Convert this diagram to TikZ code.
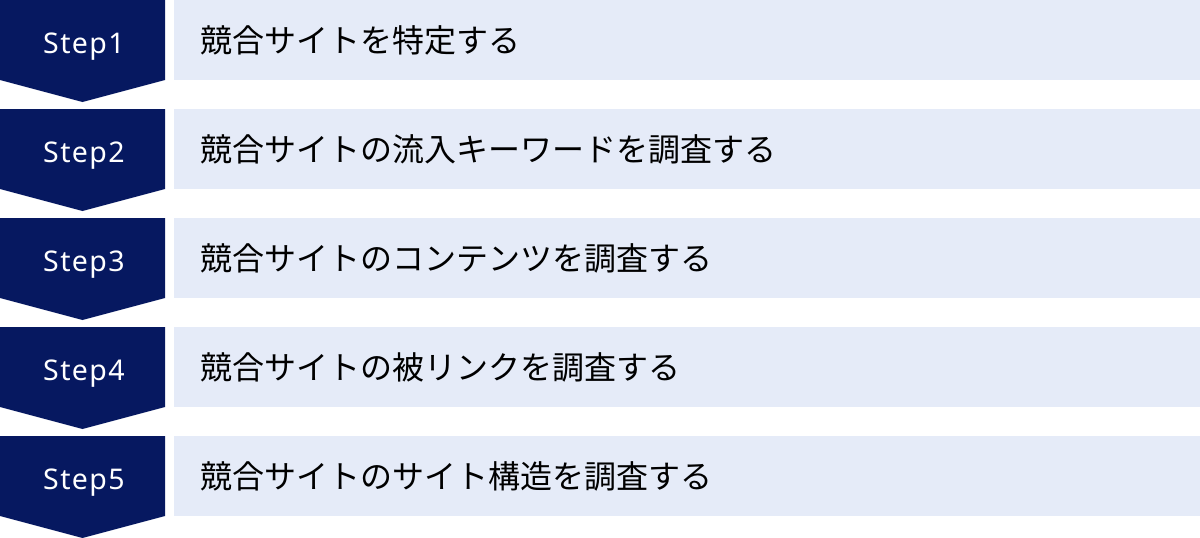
\documentclass[tikz,border=0pt]{standalone}
\usepackage{fontspec}
\usepackage{tikz}
\setmainfont{Noto Sans}
\newfontfamily\stepfont[LetterSpace=5]{Noto Sans}
\newfontfamily\jpfont{Noto Sans CJK JP}
\usetikzlibrary{positioning}
\definecolor{stepnavy}{RGB}{6,24,96}
\definecolor{stepbg}{RGB}{229,235,248}

\begin{document}
\begin{tikzpicture}[x=1pt,y=-1pt,
    steplabel/.style={text=white, inner sep=0pt, anchor=base, font=\stepfont\fontsize{28.5}{30}\selectfont},
    steptext/.style={inner sep=0pt, anchor=west, font=\jpfont\fontsize{32}{33}\selectfont}]
    % Fix the page size
    \useasboundingbox (0,0) rectangle (1200,538);
    % Draw the five steps
    \foreach \i/\txt in {1/競合サイトを特定する,
                         2/競合サイトの流入キーワードを調査する,
                         3/競合サイトのコンテンツを調査する,
                         4/競合サイトの被リンクを調査する,
                         5/競合サイトのサイト構造を調査する} {
        \pgfmathsetmacro\rowy{(\i-1)*109}
        % Chevron with the step number
        \fill[stepnavy] (0,\rowy) -- (165,\rowy) -- (165,\rowy+80)
            -- (82.5,\rowy+102) -- (0,\rowy+80) -- cycle;
        \node (step\i) [steplabel] at (84,\rowy+53.5) {Step\i};
        % Bar with the task
        \fill[stepbg] (174,\rowy) rectangle (1200,\rowy+80);
        \node (task\i) [steptext] at (200,\rowy+40.5) {\txt};
    }
\end{tikzpicture}
\end{document}
